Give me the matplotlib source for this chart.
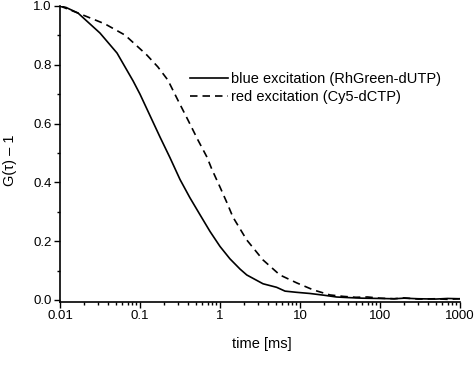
import matplotlib
matplotlib.use("Agg")
import matplotlib.pyplot as plt
from matplotlib.ticker import LogLocator, MultipleLocator, FixedFormatter, FixedLocator

plt.rcParams['font.family'] = ['Liberation Sans', 'DejaVu Sans']
plt.rcParams['font.size'] = 9.5

# blue excitation (RhGreen-dUTP)
t_blue = [0.01, 0.0119, 0.0168, 0.0316, 0.0516, 0.082, 0.1, 0.178, 0.237, 0.316,
          0.42, 0.562, 0.75, 1.0, 1.33, 1.78, 2.16, 3.45, 5.1, 6.5, 9.0, 13.3, 20,
          28.6, 40, 60, 100, 150, 200, 300, 500, 700, 1000]
g_blue = [1.0, 0.995, 0.976, 0.908, 0.84, 0.745, 0.70, 0.554, 0.484, 0.41,
          0.348, 0.29, 0.233, 0.182, 0.14, 0.105, 0.085, 0.055, 0.043, 0.030, 0.026,
          0.022, 0.016, 0.010, 0.008, 0.006, 0.005, 0.004, 0.006, 0.004, 0.003,
          0.005, 0.004]

# red excitation (Cy5-dCTP)
t_red = [0.01, 0.0168, 0.0365, 0.065, 0.122, 0.167, 0.223, 0.297, 0.398, 0.53,
         0.687, 0.79, 1.0, 1.22, 1.45, 2.16, 3.45, 5.6, 9.1, 14.7, 23.7, 35, 50, 70,
         100, 150, 200, 300, 500, 700, 1000]
g_red = [1.0, 0.976, 0.939, 0.901, 0.833, 0.793, 0.748, 0.68, 0.612, 0.544,
         0.486, 0.445, 0.384, 0.331, 0.282, 0.204, 0.136, 0.085, 0.058, 0.034, 0.017,
         0.012, 0.009, 0.010, 0.006, 0.004, 0.007, 0.003, 0.004, 0.002, 0.004]

xticks = [0.01, 0.1, 1, 10, 100, 1000]
xlabels = ['0.01', '0.1', '1', '10', '100', '1000']
yticks = [0.0, 0.2, 0.4, 0.6, 0.8, 1.0]

fig = plt.figure(figsize=(4.74, 3.72), dpi=100)
ax = fig.add_axes([60/474, 1-302/372, 400/474, 296/372])

ax.plot(t_blue, g_blue, color='black', lw=1.2, ls='-',
        label='blue excitation (RhGreen-dUTP)')
ax.plot(t_red, g_red, color='black', lw=1.2, ls=(0, (4.5, 3)),
        label='red excitation (Cy5-dCTP)')

ax.set_xscale('log')
ax.set_xlim(0.01, 1000)
ax.set_ylim(-0.007, 1.0)

ax.xaxis.set_major_locator(FixedLocator(xticks))
ax.xaxis.set_major_formatter(FixedFormatter(xlabels))
ax.xaxis.set_minor_locator(LogLocator(base=10, subs=range(2, 10), numticks=20))
ax.yaxis.set_major_locator(FixedLocator(yticks))
ax.set_yticklabels([f'{v:.1f}' for v in yticks])
ax.yaxis.set_minor_locator(MultipleLocator(0.1))

for s in ['top', 'right']:
    ax.spines[s].set_visible(False)
for s in ['left', 'bottom']:
    ax.spines[s].set_linewidth(1.2)
ax.tick_params(which='major', direction='out', length=4, width=1.0, pad=2)
ax.tick_params(which='minor', direction='out', length=2.5, width=1.0)

ax.set_xlabel('time [ms]', fontsize=10.5)
ax.set_ylabel('G(τ) – 1', fontsize=10.5)
ax.xaxis.set_label_coords(0.505, -0.118)
ax.yaxis.set_label_coords(-0.108, 0.48)

ax.legend(loc='center left', bbox_to_anchor=(190/474, 1-88/372),
          bbox_transform=fig.transFigure, frameon=False, borderpad=0,
          borderaxespad=0, handlelength=2.6, handletextpad=0.2, labelspacing=0.25,
          fontsize=10.5)

fig.savefig('out.png', dpi=100)
